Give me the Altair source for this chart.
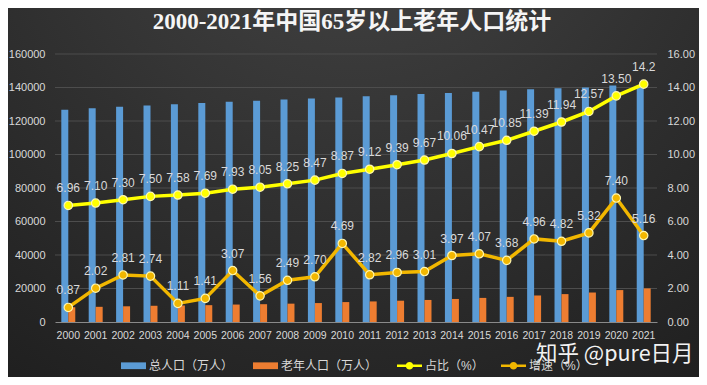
import altair as alt
import pandas as pd

years = [str(y) for y in range(2000, 2022)]
total_pop = [126743, 127627, 128453, 129227, 129988, 130756, 131448, 132129, 132802, 133450, 134091,
             134735, 135404, 136072, 136782, 137462, 138271, 139008, 139538, 140005, 141212, 141260]
elder_pop = [8821, 9062, 9377, 9692, 9857, 10055, 10419, 10636, 10956, 11307, 11894,
             12288, 12714, 13161, 13755, 14386, 15003, 15831, 16658, 17603, 19064, 20056]
share = [6.96, 7.10, 7.30, 7.50, 7.58, 7.69, 7.93, 8.05, 8.25, 8.47, 8.87,
         9.12, 9.39, 9.67, 10.06, 10.47, 10.85, 11.39, 11.94, 12.57, 13.50, 14.2]
growth = [0.87, 2.02, 2.81, 2.74, 1.11, 1.41, 3.07, 1.56, 2.49, 2.70, 4.69,
          2.82, 2.96, 3.01, 3.97, 4.07, 3.68, 4.96, 4.82, 5.32, 7.40, 5.16]
share_labels = [f"{v:.2f}" for v in share[:-1]] + ["14.2"]
growth_labels = [f"{v:.2f}" for v in growth]
left_ticks = list(range(0, 160001, 20000))
right_ticks = list(range(0, 17, 2))
title_text = "2000-2021年中国65岁以上老年人口统计"
watermark_text = "知乎 @pure日月"

bar_names = ["总人口（万人）", "老年人口（万人）"]
bar_colors = ["#5b9bd5", "#ed7d31"]
line_names = ["占比（%）", "增速（%）"]
line_colors = ["#ffff00", "#f2b700"]

bars_df = pd.DataFrame(
    [{"year": y, "bseries": bar_names[0], "value": v} for y, v in zip(years, total_pop)]
    + [{"year": y, "bseries": bar_names[1], "value": v} for y, v in zip(years, elder_pop)]
)
lines_df = pd.DataFrame(
    [{"year": y, "lseries": line_names[0], "pct": v, "label": l}
     for y, v, l in zip(years, share, share_labels)]
    + [{"year": y, "lseries": line_names[1], "pct": v, "label": l}
       for y, v, l in zip(years, growth, growth_labels)]
)
grid_df = pd.DataFrame({"value": left_ticks[1:]})

W, H = 602, 268
PAD = {"left": 47, "right": 42, "top": 46, "bottom": 55}
FONT = "Liberation Sans, Noto Sans CJK SC"
LABEL_COLOR = "#d9d9d9"

xscale = alt.Scale(domain=years, paddingInner=0.49, paddingOuter=0.23)
xaxis = alt.Axis(title=None, labelColor=LABEL_COLOR, labelFontSize=10.5, labelFont=FONT,
                 ticks=False, labelPadding=8, domainColor="#8a8a8a", domainWidth=1,
                 grid=False, labelAngle=0, zindex=1, labelOverlap=False)
yleft = alt.Scale(domain=[0, 160000], nice=False)
yleft_axis = alt.Axis(title=None, values=left_ticks, format="d",
                      labelColor=LABEL_COLOR, labelFontSize=11, labelFont=FONT,
                      ticks=False, domain=False, labelPadding=10, grid=False, zindex=1,
                      labelOverlap=False)

bg = alt.Chart(alt.Data(values=[{"a": 1}])).mark_rect(
    color=alt.Gradient(
        gradient="radial",
        x1=0.5, y1=0.0, r1=0.0,
        x2=0.5, y2=0.0, r2=1.0,
        stops=[alt.GradientStop(color="#474747", offset=0),
               alt.GradientStop(color="#313131", offset=0.5),
               alt.GradientStop(color="#1c1c1c", offset=1)],
    )
).encode(
    x=alt.value(-PAD["left"]), x2=alt.value(W + PAD["right"]),
    y=alt.value(-PAD["top"]), y2=alt.value(H + PAD["bottom"]),
)

grid = alt.Chart(grid_df).mark_rule(color="#4d4d4d", strokeWidth=1).encode(
    y=alt.Y("value:Q", scale=yleft, axis=yleft_axis),
    x=alt.value(0), x2=alt.value(W),
)

bars = alt.Chart(bars_df).mark_bar().encode(
    x=alt.X("year:N", scale=xscale, axis=xaxis),
    xOffset=alt.XOffset("bseries:N", scale=alt.Scale(domain=bar_names, paddingInner=0, paddingOuter=0)),
    y=alt.Y("value:Q", scale=yleft, axis=yleft_axis),
    color=alt.Color("bseries:N", scale=alt.Scale(domain=bar_names, range=bar_colors),
                    legend=alt.Legend(title=None, orient="none", legendX=66, legendY=299,
                                      direction="horizontal",
                                      symbolType="M-1,-0.27H1V0.27H-1Z", symbolSize=625,
                                      symbolStrokeWidth=0, labelColor=LABEL_COLOR,
                                      labelFontSize=12, labelFont=FONT, columnPadding=19,
                                      labelOffset=3, zindex=1)),
)

left_layer = alt.layer(grid, bars)

base = alt.Chart(lines_df).encode(
    x=alt.X("year:N", scale=xscale, axis=xaxis),
    y=alt.Y("pct:Q", scale=alt.Scale(domain=[0, 16], nice=False),
            axis=alt.Axis(title=None, orient="right", values=right_ticks, format=".2f",
                          labelColor=LABEL_COLOR, labelFontSize=11, labelFont=FONT,
                          ticks=False, domain=False, labelPadding=10, grid=False, zindex=1,
                          labelOverlap=False)),
)

lines = base.mark_line(strokeWidth=3.5).encode(
    stroke=alt.Stroke("lseries:N", scale=alt.Scale(domain=line_names, range=line_colors), legend=None),
    detail="lseries:N",
)
points = base.mark_circle(size=70, opacity=1, stroke="#fff7b0", strokeWidth=1.2).encode(
    fill=alt.Fill("lseries:N", scale=alt.Scale(domain=line_names, range=line_colors),
                  legend=alt.Legend(title=None, orient="none", legendX=342, legendY=299,
                                    direction="horizontal",
                                    symbolType="M-1,-0.1H1V0.1H-1Z M0.3,0A0.3,0.3,0,1,1,-0.3,0A0.3,0.3,0,1,1,0.3,0Z",
                                    symbolSize=625, symbolStrokeWidth=0,
                                    labelColor=LABEL_COLOR, labelFontSize=12, labelFont=FONT,
                                    columnPadding=17, labelOffset=3, zindex=1)),
)
labels = base.mark_text(dy=-17, fontSize=12, font=FONT, color=LABEL_COLOR).encode(
    text="label:N",
)

right_layer = alt.layer(lines, points, labels)

title = alt.Chart(alt.Data(values=[{"t": title_text}])).mark_text(
    fontSize=23, font="Liberation Serif, Noto Sans CJK SC", fontWeight="bold",
    color="#f5f5f5", align="center", baseline="middle"
).encode(text="t:N", x=alt.value(W / 2 - 4), y=alt.value(-32))

watermark = alt.Chart(alt.Data(values=[{"t": watermark_text}])).mark_text(
    fontSize=21.5, font="Noto Sans CJK SC", color="#f2f2f2", align="left", baseline="middle"
).encode(text="t:N", x=alt.value(481), y=alt.value(301))

chart = alt.layer(bg, left_layer, right_layer, title, watermark).resolve_scale(
    y="independent"
).resolve_legend(color="independent", fill="independent").properties(
    width=W, height=H,
    padding=PAD,
    autosize=alt.AutoSizeParams(type="none"),
    background="#262626",
).configure_view(stroke=None)

chart.save("out.html", embed_options={"renderer": "svg", "actions": False})
